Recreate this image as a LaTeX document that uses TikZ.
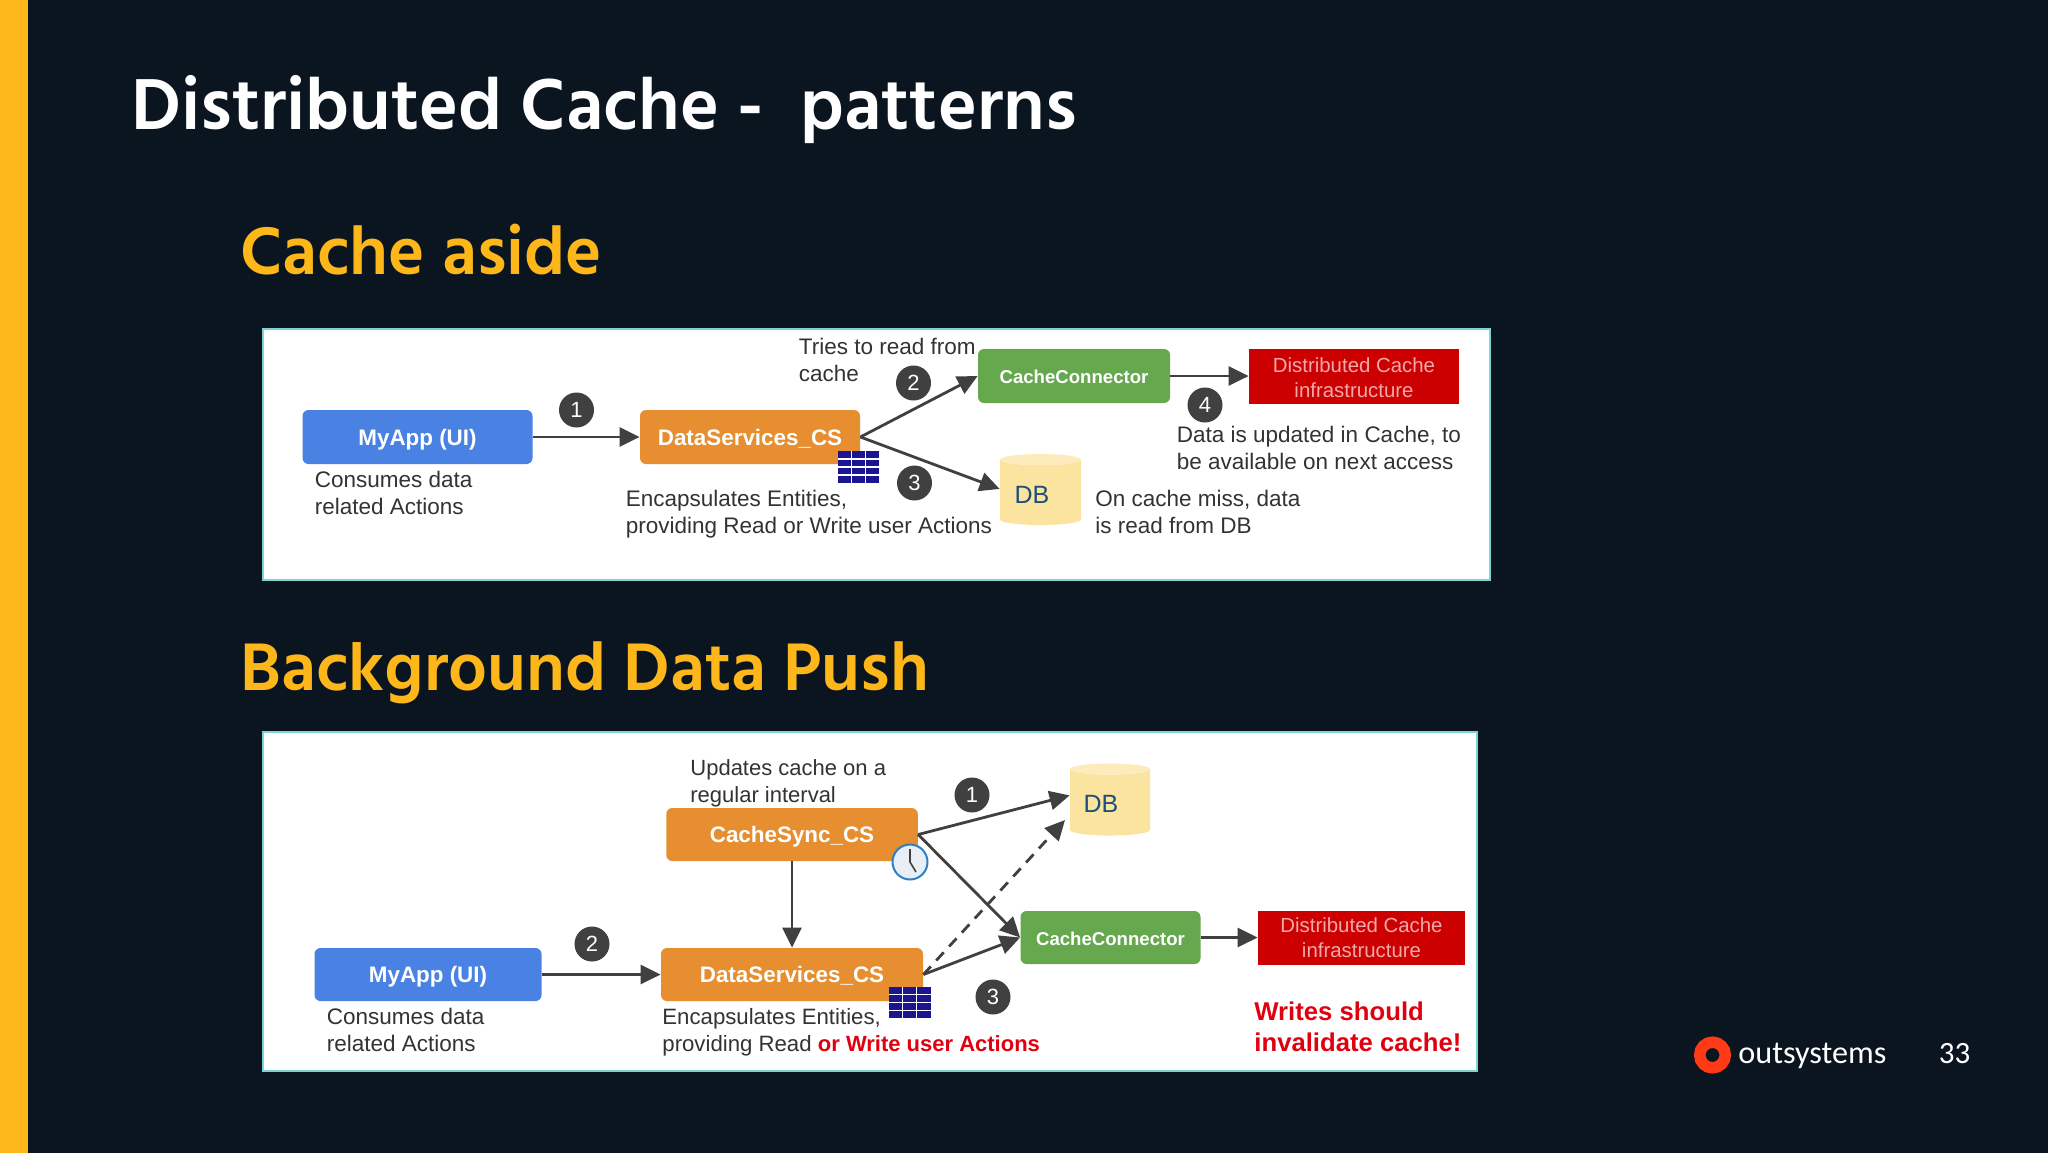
\documentclass[tikz,border=0pt]{standalone}
\usepackage{fontspec}
\usetikzlibrary{arrows.meta,shapes.geometric}
\setmainfont{Liberation Sans}
\newfontfamily\headfont{Hind Madurai}
\newfontfamily\brandfont{Carlito}
\definecolor{bgdark}{HTML}{0B1520}
\definecolor{accent}{HTML}{FDB71A}
\definecolor{frame}{HTML}{7FD3D3}
\definecolor{appblue}{HTML}{4A82E4}
\definecolor{csorange}{HTML}{E68E30}
\definecolor{ccgreen}{HTML}{66A84E}
\definecolor{infrared}{HTML}{CC0000}
\definecolor{infratext}{HTML}{F2A8A8}
\definecolor{dbyellow}{HTML}{FBE3A0}
\definecolor{dbtop}{HTML}{FDEBBB}
\definecolor{dbtext}{HTML}{1F4E79}
\definecolor{inkgrey}{HTML}{404040}
\definecolor{bodytext}{HTML}{333333}
\definecolor{warnred}{HTML}{E00010}
\definecolor{gridblue}{HTML}{1C1590}
\definecolor{clockblue}{HTML}{2F7FC8}
\definecolor{clockface}{HTML}{E8EEF5}
\definecolor{logored}{HTML}{FF3A14}
\tikzset{
  box/.style={rounded corners=3pt,inner sep=0pt,text=white,text height=9pt,text depth=0.6pt,font=\fontsize{11.2}{13.5}\selectfont\bfseries,align=center},
  appbox/.style={box,fill=appblue},
  csbox/.style={box,fill=csorange},
  ccbox/.style={box,fill=ccgreen,text height=8.2pt,text depth=0.4pt,font=\fontsize{9.3}{11}\selectfont\bfseries},
  infrabox/.style={inner sep=0pt,fill=infrared,text=infratext,align=center,font=\fontsize{10.2}{12.5}\selectfont},
  dbnode/.style={shape=cylinder,shape border rotate=90,aspect=0.32,cylinder uses custom fill,cylinder body fill=dbyellow,cylinder end fill=dbtop,inner sep=0pt,font=\fontsize{12.5}{14}\selectfont},
  dblabel/.style={inner sep=0pt,text=dbtext,font=\fontsize{12.5}{14}\selectfont},
  note/.style={anchor=west,inner sep=0pt,align=left,text=bodytext,font=\fontsize{11.25}{13.5}\selectfont},
  warn/.style={note,text=warnred,font=\fontsize{12.85}{15.5}\selectfont\bfseries},
  badge/.style={circle,fill=inkgrey,text=white,inner sep=0pt,minimum size=17.5pt,font=\fontsize{11}{11}\selectfont},
  arr/.style={draw=inkgrey,line width=1.4pt,-{Triangle[length=10pt,width=9.5pt]}},
  dashy/.style={arr,dash pattern=on 5.5pt off 4pt},
  panel/.style={draw=frame,line width=0.8pt,fill=white},
  head/.style={anchor=base west,inner sep=0pt,text=accent,font=\fontsize{34.5}{40}\headfont\bfseries},
}
\newcommand{\gridicon}[4]{%
  \fill[gridblue] (#1,#2) rectangle (#3,#4);
  \foreach \i in {1,2}{\draw[white,line width=0.6pt] ({#1+\i*(#3-#1)/3},#2) -- ({#1+\i*(#3-#1)/3},#4);}
  \foreach \i in {1,2,3}{\draw[white,line width=0.6pt] (#1,{#2+\i*(#4-#2)/4}) -- (#3,{#2+\i*(#4-#2)/4});}
}
\begin{document}
\begin{tikzpicture}[x=0.5pt,y=-0.5pt]
\path[use as bounding box] (0,0) rectangle (2048,1152);
\fill[bgdark] (-6,-6) rectangle (2054,1158);
\fill[accent] (-6,-6) rectangle (28,1158);
\node[head,text=white,font=\fontsize{37}{42}\headfont\bfseries] (title) at (131,129.5) {Distributed Cache -\ \ patterns};
\node[head] (h1) at (240,274) {Cache aside};
\node[head] (h2) at (240,690) {Background Data Push};
% panel 1
\path[panel] (263,329) rectangle (1490,580);
\node[appbox,minimum width=115pt,minimum height=27pt] (app1) at (417.5,437) {MyApp (UI)};
\node[csbox,minimum width=110pt,minimum height=27pt] (ds1) at (750,437) {DataServices\_CS};
\node[ccbox,minimum width=96pt,minimum height=27pt] (cc1) at (1074,376) {CacheConnector};
\node[infrabox,minimum width=105pt,minimum height=27.5pt] (inf1) at (1354,376) {\rule{0pt}{8.8pt}Distributed Cache\\infrastructure};
\node[dbnode,minimum width=40.5pt,minimum height=35.5pt] (db1) at (1040.5,492.5) {\phantom{DB}};
\node[dblabel] (dbt1) at (1032,495) {DB};
\draw[arr] (app1.east) -- (ds1.west);
\draw[arr] (ds1.east) -- (cc1.west);
\draw[arr] (ds1.east) -- (db1.175);
\draw[arr] (cc1.east) -- (inf1.west);
\gridicon{837.5}{451}{879}{483}
\node[badge] (n11) at (576.5,410) {1};
\node[badge] (n12) at (913.5,383) {2};
\node[badge] (n13) at (914.5,483) {3};
\node[badge] (n14) at (1205,405) {4};
\node[note] (t11) at (314.5,492.5) {Consumes data\\related Actions};
\node[note] (t12) at (625.5,514) {Encapsulates Entities,\\providing Read or Write user Actions};
\node[note] (t13) at (798.5,359.5) {Tries to read from\\cache};
\node[note] (t14) at (1176.5,447.5) {Data is updated in Cache, to\\be available on next access};
\node[note] (t15) at (1095,511.5) {On cache miss, data\\is read from DB};
% panel 2
\path[panel] (263,732) rectangle (1477,1071);
\node[appbox,minimum width=113.5pt,minimum height=26.5pt] (app2) at (428,974.5) {MyApp (UI)};
\node[csbox,minimum width=131pt,minimum height=26.5pt] (ds2) at (792,974.5) {DataServices\_CS};
\node[csbox,minimum width=125.75pt,minimum height=26.5pt] (sync2) at (792,834.5) {CacheSync\_CS};
\node[ccbox,minimum width=90pt,minimum height=26.5pt] (cc2) at (1110.5,937.5) {CacheConnector};
\node[infrabox,minimum width=103.5pt,minimum height=27pt] (inf2) at (1361.5,937.5) {Distributed Cache\\infrastructure};
\node[dbnode,minimum width=40pt,minimum height=36pt] (db2) at (1110,802.5) {\phantom{DB}};
\node[dblabel] (dbt2) at (1101,804) {DB};
\coordinate (dashend) at (1065,820);
\draw[arr] (app2.east) -- (ds2.west);
\draw[arr] (sync2.south) -- (ds2.north);
\draw[arr] (sync2.east) -- (db2.170);
\draw[arr] (sync2.east) -- (cc2.west);
\draw[arr] (ds2.east) -- (cc2.west);
\draw[dashy] (ds2.east) -- (dashend);
\draw[arr] (cc2.east) -- (inf2.west);
\gridicon{889}{987}{930.5}{1018}
\node[circle,draw=clockblue,fill=clockface,line width=1pt,minimum size=17.5pt,inner sep=0pt] (clock) at (910,862) {};
\draw[inkgrey,line width=0.8pt] (clock.center) ++(0,-13) -- ++(0,13) -- ++(6,10);
\node[badge] (n21) at (972,795) {1};
\node[badge] (n22) at (592,944) {2};
\node[badge] (n23) at (993,997) {3};
\node[note,font=\fontsize{11}{13.5}\selectfont] (t21) at (690,783.5) {Updates cache on a\\regular interval};
\node[note] (t22) at (326.5,1030) {Consumes data\\related Actions};
\node[note,font=\fontsize{11.1}{13.5}\selectfont] (t23) at (662,1032) {Encapsulates Entities,\\providing Read {\fontsize{11}{13.5}\selectfont\color{warnred}\bfseries or Write user Actions}};
\node[warn] (t24) at (1254,1026.5) {Writes should\\invalidate cache!};
% footer
\node[circle,draw=logored,line width=5.75pt,minimum size=12.8pt,inner sep=0pt,fill=bgdark] (logo) at (1712.5,1055) {};
\node[anchor=base west,inner sep=0pt,text=white,font=\fontsize{16.1}{18}\brandfont] (brand) at (1738,1063) {outsystems};
\node[anchor=base west,inner sep=0pt,text=white,font=\fontsize{15.5}{18}\brandfont] (page) at (1938.5,1063) {33};
\end{tikzpicture}
\end{document}
